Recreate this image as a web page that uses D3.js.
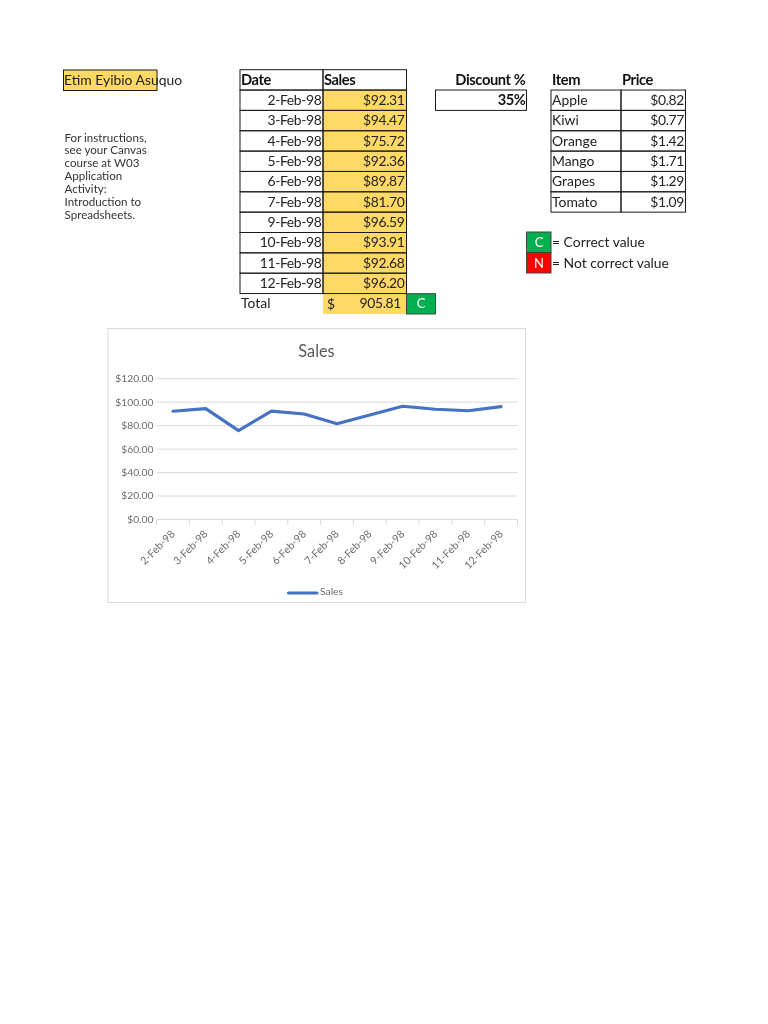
<!DOCTYPE html>
<html><head><meta charset="utf-8">
<script src="https://cdn.jsdelivr.net/npm/d3@7/dist/d3.min.js"></script>
<style>html,body{margin:0;padding:0;background:#fff}svg{display:block;filter:blur(0.3px)}text{font-family:Lato,"Open Sans",sans-serif}</style>
</head><body><svg id="s" width="768" height="1024"></svg>
<script>
const chartCategories=["2-Feb-98","3-Feb-98","4-Feb-98","5-Feb-98","6-Feb-98","7-Feb-98","8-Feb-98","9-Feb-98","10-Feb-98","11-Feb-98","12-Feb-98"];
const chartSales=[92.31,94.47,75.72,92.36,89.87,81.70,null,96.59,93.91,92.68,96.20];
const yTicks=[0,20,40,60,80,100,120];
const tableDates=["2-Feb-98","3-Feb-98","4-Feb-98","5-Feb-98","6-Feb-98","7-Feb-98","9-Feb-98","10-Feb-98","11-Feb-98","12-Feb-98"];
const tableSales=["$92.31","$94.47","$75.72","$92.36","$89.87","$81.70","$96.59","$93.91","$92.68","$96.20"];
const items=["Apple","Kiwi","Orange","Mango","Grapes","Tomato"];
const prices=["$0.82","$0.77","$1.42","$1.71","$1.29","$1.09"];
const instructions=["For instructions,","see your Canvas","course at W03","Application","Activity:","Introduction to","Spreadsheets."];

const svg=d3.select("#s");
const YEL="#FFD966",GRN="#00B050",RED="#FF0000",BLK="#1a1a1a",INK="#222";
const rowY=i=>69.7+20.35*i;
const NUM={fs:13.9,ls:"-0.35px"};
function rect(x0,y0,x1,y1,fill,stroke){return svg.append("rect").attr("x",x0).attr("y",y0).attr("width",x1-x0).attr("height",y1-y0).attr("fill",fill||"none").attr("stroke",stroke||"none").attr("stroke-width",stroke?1:0);}
function txt(x,y,s,o={}){return svg.append("text").attr("x",x).attr("y",y).text(s).attr("text-anchor",o.a||"start").attr("font-size",o.fs||13.9).attr("font-weight",o.w||400).attr("fill",o.c||INK).style("letter-spacing",o.ls||null);}

// name
rect(63.5,70,157,90.5,YEL,BLK);
txt(64,84.7,"Etim Eyibio Asuquo");
instructions.forEach((l,i)=>txt(64.5,141.5+i*12.95,l,{fs:11.6,c:"#333"}));

// sales table
const c0=240,c1=323,c2=406.5;
rect(c1,rowY(1),c2,rowY(11),YEL);
rect(c1,rowY(11),c2,rowY(12),YEL);
d3.range(0,11).forEach(i=>{rect(c0,rowY(i),c1,rowY(i+1),"none",BLK);rect(c1,rowY(i),c2,rowY(i+1),"none",BLK);});
const HEAD={fs:14.7,w:700,c:"#111",ls:"-0.4px"};
txt(241,85,"Date",HEAD);
txt(324,85,"Sales",HEAD);
tableDates.forEach((d,i)=>txt(321.5,rowY(i+1)+14.9,d,{a:"end",...NUM}));
tableSales.forEach((d,i)=>txt(404.5,rowY(i+1)+14.9,d,{a:"end",...NUM}));
txt(241,308,"Total");
txt(327,309,"$");
txt(401,308,"905.81",{a:"end",...NUM});
rect(406.5,293.7,435.5,314,GRN,"#444");
txt(421,308.2,"C",{a:"middle",c:"#fff",fs:13});

// discount
txt(525.5,85,"Discount %",{a:"end",...HEAD});
rect(435.5,90,526.5,110.4,"none",BLK);
txt(525.5,105,"35%",{a:"end",...HEAD});

// items
txt(552,85,"Item",HEAD);
txt(622,85,"Price",HEAD);
items.forEach((d,i)=>{
  rect(551,rowY(i+1),621,rowY(i+2),"none",BLK);
  rect(621,rowY(i+1),685.5,rowY(i+2),"none",BLK);
  txt(552,rowY(i+1)+14.9,d);
  txt(684,rowY(i+1)+14.9,prices[i],{a:"end",...NUM});
});

// key
rect(526.5,232,551,252.5,GRN,"#444");
rect(526.5,252.5,551,273,RED,"#444");
txt(539,247,"C",{a:"middle",c:"#fff",fs:13});
txt(539,267.5,"N",{a:"middle",c:"#fff",fs:13});
txt(552,247,"= Correct value");
txt(552,267.5,"= Not correct value");

// chart
rect(108,328.5,525.5,602.5,"#fff","#D9D9D9");
const x=d3.scaleBand().domain(chartCategories).range([156.5,517.5]);
const y=d3.scaleLinear().domain([0,120]).range([519.5,378.7]);
const GRID="#D9D9D9",AX="#6b6b6b";
svg.append("text").attr("x",316.5).attr("y",357).attr("text-anchor","middle").attr("font-size",16.3).attr("fill","#595959").text("Sales");
svg.append("g").selectAll("line").data(yTicks).join("line")
  .attr("x1",156.5).attr("x2",517.5).attr("y1",d=>y(d)).attr("y2",d=>y(d)).attr("stroke",GRID).attr("stroke-width",1);
const fmt=d3.format("$.2f");
svg.append("g").selectAll("text").data(yTicks).join("text")
  .attr("x",153.5).attr("y",d=>y(d)+3.4).attr("text-anchor","end").attr("font-size",10.3).attr("fill",AX).text(d=>fmt(d));
// x ticks
const tickXs=chartCategories.map(c=>x(c)).concat(517.5);
svg.append("g").selectAll("line").data(tickXs).join("line")
  .attr("x1",d=>d).attr("x2",d=>d).attr("y1",519.5).attr("y2",525).attr("stroke",GRID);
svg.append("g").selectAll("text").data(chartCategories).join("text")
  .attr("text-anchor","end").attr("font-size",10.6).attr("fill",AX)
  .attr("transform",c=>`translate(${x(c)+x.bandwidth()/2},${532}) rotate(-45)`)
  .attr("dy","0.35em").text(c=>c);
const pts=chartCategories.map((c,i)=>({c,v:chartSales[i]})).filter(d=>d.v!==null);
const line=d3.line().x(d=>x(d.c)+x.bandwidth()/2).y(d=>y(d.v));
svg.append("path").datum(pts).attr("d",line).attr("fill","none").attr("stroke","#4472C4").attr("stroke-width",3.1).attr("stroke-linecap","round").attr("stroke-linejoin","round");
// legend
svg.append("line").attr("x1",288.5).attr("x2",317).attr("y1",593).attr("y2",593).attr("stroke","#4472C4").attr("stroke-width",3.1).attr("stroke-linecap","round");
svg.append("text").attr("x",320).attr("y",594.5).attr("font-size",10.3).attr("fill",AX).text("Sales");
</script></body></html>
